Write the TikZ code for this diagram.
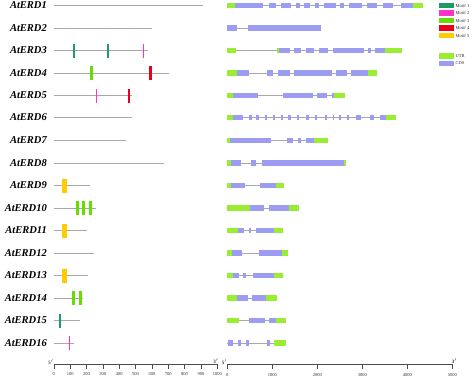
\documentclass[tikz,border=0pt]{standalone}
\usepackage{fontspec}
\setmainfont{Liberation Serif}
\definecolor{utrc}{HTML}{99EE33}
\definecolor{cdsc}{HTML}{9C9CF2}
\definecolor{mA}{HTML}{1E9A66}
\definecolor{mB}{HTML}{FF33CC}
\definecolor{mC}{HTML}{66DD00}
\definecolor{mD}{HTML}{E8001C}
\definecolor{mE}{HTML}{FFCC00}
\definecolor{linec}{HTML}{A8A8A8}
\newcommand\genestruct[3]{%
  \draw[intron] (227.3,#1) -- (#2,#1);
  \foreach \t/\a/\b in {#3} {\fill[fill=\t] (\a,{#1-2.8}) rectangle (\b,{#1+2.8});}
}
\newcommand\protline[3]{%
  \node[genelabel] (g#3) at (47,#1) {AtERD#3};
  \draw[protein] (53.5,#1) -- (#2,#1);
}
\newcommand\motifs[2]{%
  \foreach \c/\x/\w in {#2} {\fill[fill=\c] ({\x-\w/2},{#1-7}) rectangle ({\x+\w/2},{#1+7});}
}
\begin{document}
\begin{tikzpicture}[x=1pt,y=-1pt,
  genelabel/.style={anchor=east,inner sep=0pt,font=\fontsize{10.5}{12}\selectfont\bfseries\itshape},
  protein/.style={draw=linec,line width=0.8pt},
  intron/.style={draw=linec,line width=0.7pt},
  axisline/.style={draw=black!70,line width=0.5pt},
  ticklabel/.style={font=\fontsize{4.5}{5}\selectfont,inner sep=0pt,text=black!80},
  endlabel/.style={font=\fontsize{5}{6}\selectfont\bfseries,inner sep=0pt,text=black!80},
  legtext/.style={anchor=west,font=\fontsize{4.5}{5}\selectfont,inner sep=0pt,text=black!80}]
\useasboundingbox (0,0) rectangle (474,381);
\fill[white] (0,0) rectangle (474,381);

% ---------------- left: proteins and motifs
\protline{5.5}{203}{1}
\protline{28}{152}{2}
\protline{50.5}{148}{3}
\protline{73}{169}{4}
\protline{95.5}{132}{5}
\protline{117.5}{132}{6}
\protline{140.5}{126}{7}
\protline{163}{164}{8}
\protline{185.5}{90}{9}
\protline{208}{96}{10}
\protline{230.5}{87}{11}
\protline{253}{94}{12}
\protline{275.5}{88}{13}
\protline{298}{83}{14}
\protline{320.5}{80}{15}
\protline{343}{74}{16}

\motifs{50.5}{mA/74.3/1.8, mA/107.7/1.8, mB/143/1.0}
\motifs{73}{mC/91.3/3, mD/150.7/2.5}
\motifs{95.5}{mB/96.3/1.0, mD/129/2.5}
\motifs{185.5}{mE/64.3/5}
\motifs{208}{mC/77.3/3, mC/83.3/3, mC/90/3}
\motifs{230.5}{mE/64.3/5}
\motifs{275.5}{mE/64/5}
\motifs{298}{mC/73/3, mC/80/3}
\motifs{320.5}{mA/60/1.5}
\motifs{343}{mB/69/1.0}

% ---------------- right: gene structures
\genestruct{5.5}{423.3}{utrc/227.3/235, cdsc/235/263.3, cdsc/269.3/276, cdsc/281/290.7, cdsc/295.7/300, cdsc/304.3/310, cdsc/315/319, cdsc/323.7/335.7, cdsc/340/344, cdsc/349.3/362.3, cdsc/366.7/377.3, cdsc/383/393, cdsc/400.5/413.3, utrc/413.3/423.3}
\genestruct{28}{321}{cdsc/227.3/236.7, cdsc/248.3/321}
\genestruct{50.5}{401.7}{utrc/227.3/236, utrc/277.3/278.7, cdsc/278.7/290, cdsc/294.3/300.7, cdsc/306/314.3, cdsc/319/327.7, cdsc/333.3/364, cdsc/367.7/370.7, cdsc/375/385, utrc/385/401.7}
\genestruct{73}{376.7}{utrc/227.3/237.3, cdsc/237.3/249.3, cdsc/266.7/273.3, cdsc/277.7/290, cdsc/294.3/331.7, cdsc/335.7/346.7, cdsc/351/368.3, utrc/368.3/376.7}
\genestruct{95.5}{345}{utrc/227.3/232.7, cdsc/232.7/258.3, cdsc/283.3/312.7, cdsc/317.3/327.3, cdsc/332.3/334, utrc/334/345}
\genestruct{117.5}{396}{utrc/227.3/233.3, cdsc/233.3/243.3, cdsc/249.3/251.7, cdsc/256/259.3, cdsc/265/267.3, cdsc/272.7/275, cdsc/281/283.3, cdsc/288.3/290.7, cdsc/296.7/299, cdsc/306/309, cdsc/315/317.3, cdsc/325/327.3, cdsc/332.7/334.3, cdsc/339.3/341, cdsc/346.7/349, cdsc/356/360.7, cdsc/370/374, cdsc/380/385.7, utrc/385.7/396}
\genestruct{140.5}{327.7}{utrc/227.3/230, cdsc/230/270.7, cdsc/286.7/293.3, cdsc/297.7/301, cdsc/306/314, utrc/314/327.7}
\genestruct{163}{345.7}{utrc/227.3/231, cdsc/231/240.7, cdsc/250.7/256, cdsc/261.7/344, utrc/344/345.7}
\genestruct{185.5}{284}{utrc/227.3/231, cdsc/231/245, cdsc/260/275.7, utrc/275.7/284}
\genestruct{208}{299.3}{utrc/227.3/250, cdsc/250/264.3, cdsc/269/289, utrc/289/299.3}
\genestruct{230.5}{283.3}{utrc/227.3/237.7, cdsc/237.7/244.3, cdsc/248.7/250.7, cdsc/255.7/274.3, utrc/274.3/283.3}
\genestruct{253}{288.3}{utrc/227.3/231.7, cdsc/231.7/241.7, cdsc/259/282.3, utrc/282.3/288.3}
\genestruct{275.5}{283.3}{utrc/227.3/232.7, cdsc/232.7/239.3, cdsc/243.3/245.7, cdsc/253.3/274, utrc/274/283.3}
\genestruct{298}{276.7}{utrc/227.3/237.3, cdsc/237.3/248.3, cdsc/252.3/266, utrc/266/276.7}
\genestruct{320.5}{285.7}{utrc/227.3/239, cdsc/249.3/265, cdsc/269.3/275.7, utrc/275.7/285.7}
\genestruct{343}{285.7}{cdsc/227.7/232.7, cdsc/237.7/241.3, cdsc/245.7/249.3, cdsc/267.3/270, utrc/274.3/285.7}

% ---------------- legend
\foreach \c/\y/\t [count=\i] in {mA/5.5/Motif 1, mB/13/Motif 2, mC/20.5/Motif 3, mD/28/Motif 4, mE/35.5/Motif 5, utrc/56/UTR, cdsc/63.5/CDS} {
  \fill[fill=\c] (439,{\y-2.8}) rectangle (453.5,{\y+2.8});
  \node[legtext] (leg\i) at (455.5,\y) {\t};
}

% ---------------- axes
\coordinate (la0) at (53.5,364.3);
\coordinate (la1) at (217.3,364.3);
\draw[axisline] (la0) -- (la1);
\foreach \v [count=\i from 0] in {0,100,...,1000} {
  \draw[axisline] ({53.8+\i*16.35},364.3) -- ({53.8+\i*16.35},368.8);
  \node[ticklabel] (lt\i) at ({53.8+\i*16.35},374.3) {\v};
}
\node[endlabel] (l5) at (51,362) {5$'$};
\node[endlabel] (l3) at (216,361.5) {3$'$};

\coordinate (ra0) at (227,364.3);
\coordinate (ra1) at (452,364.3);
\draw[axisline] (ra0) -- (ra1);
\foreach \v [count=\i from 0] in {0,1000,...,5000} {
  \draw[axisline] ({227.3+\i*45},364.3) -- ({227.3+\i*45},368.8);
  \node[ticklabel] (rt\i) at ({227.3+\i*45},374.8) {\v};
}
\node[endlabel] (r5) at (224.5,362) {5$'$};
\node[endlabel] (r3) at (454.5,361.5) {3$'$};
\end{tikzpicture}
\end{document}
